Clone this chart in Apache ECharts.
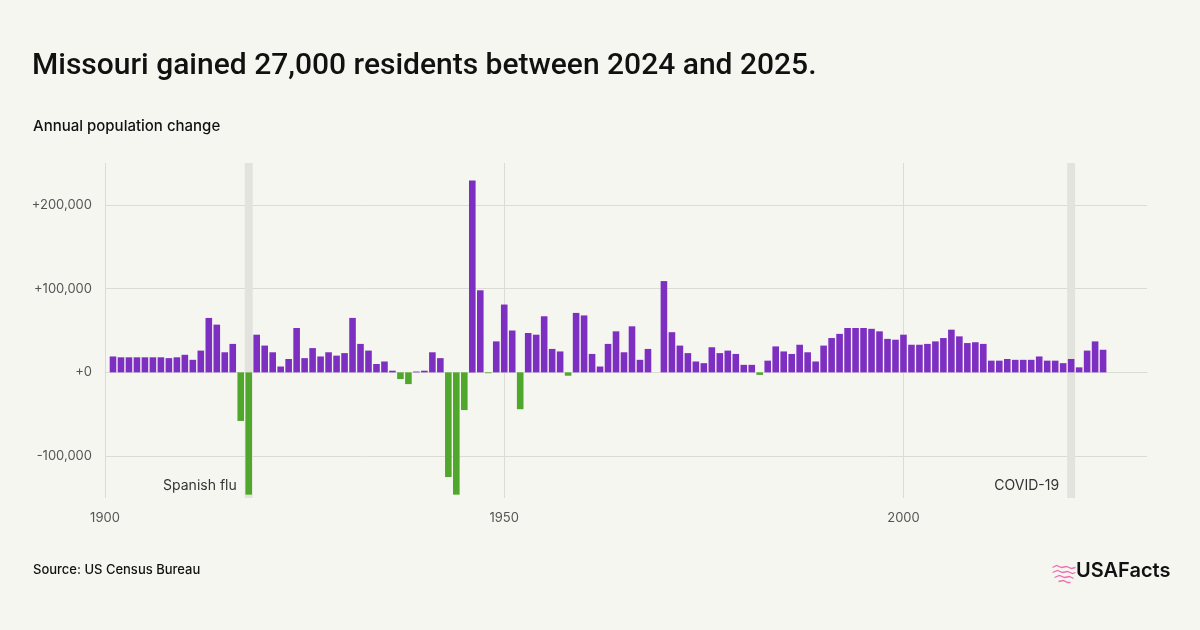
<!DOCTYPE html>
<html>
<head>
<meta charset="utf-8">
<script src="https://cdn.jsdelivr.net/npm/echarts@6/dist/echarts.min.js"></script>
<style>
  html, body { margin: 0; padding: 0; background: #f6f6f1; }
  #chart { width: 1200px; height: 630px; }
</style>
</head>
<body>
<div id="chart"></div>
<script>
// ---- Data ----
const years = Array.from({ length: 125 }, (_, i) => 1901 + i); // 1901..2025
const popChange = [
  19000, 18000, 18000, 18000, 18000, 18000, 18000, 17000, 18000, 21000,   // 1901-1910
  15000, 26000, 65000, 57000, 24000, 34000, -58000, -146000, 45000, 32000, // 1911-1920
  24000, 7000, 16000, 53000, 17000, 29000, 19000, 24000, 20000, 23000,    // 1921-1930
  65000, 34000, 26000, 10000, 13000, 2000, -8000, -14000, 1000, 2000,     // 1931-1940
  24000, 17000, -125000, -146000, -45000, 229000, 98000, -1000, 37000, 81000, // 1941-1950
  50000, -44000, 47000, 45000, 67000, 28000, 25000, -4000, 71000, 68000,  // 1951-1960
  22000, 7000, 34000, 49000, 24000, 55000, 15000, 28000, null, 109000,    // 1961-1970
  48000, 32000, 23000, 13000, 11000, 30000, 23000, 26000, 22000, 9000,    // 1971-1980
  9000, -3000, 14000, 31000, 25000, 22000, 33000, 24000, 13000, 32000,    // 1981-1990
  41000, 46000, 53000, 53000, 53000, 52000, 49000, 40000, 39000, 45000,   // 1991-2000
  33000, 33000, 34000, 37000, 41000, 51000, 43000, 35000, 36000, 34000,   // 2001-2010
  14000, 14000, 16000, 15000, 15000, 15000, 19000, 14000, 14000, 11000,   // 2011-2020
  16000, 6000, 26000, 37000, 27000                                          // 2021-2025
];
const events = [
  { name: 'Spanish flu', year: 1918 },
  { name: 'COVID-19', year: 2021 }
];
const yTicks = [-100000, 0, 100000, 200000];
const xTicks = [1900, 1950, 2000];

const titleText = 'Missouri gained 27,000 residents between 2024 and 2025.';
const subtitleText = 'Annual population change';
const sourceText = 'Source: US Census Bureau';

// ---- Chart ----
const PURPLE = '#7d2fc1';
const GREEN = '#4fa82b';
const GRID = '#dcdcd7';
const FONT = 'Inter, Roboto, "Noto Sans", sans-serif';
const TFONT = 'Roboto, Inter, sans-serif';

const chart = echarts.init(document.getElementById('chart'), null, { renderer: 'canvas' });

const fmt = v => {
  const s = Math.abs(v).toLocaleString('en-US');
  return (v < 0 ? '-' : '+') + s;
};

const option = {
  backgroundColor: '#f6f6f1',
  animation: false,
  grid: { left: 105, right: 53, top: 163, bottom: 132, containLabel: false },
  xAxis: {
    type: 'value',
    min: 1900,
    max: 2030.5,
    interval: 50,
    axisLine: { show: true, lineStyle: { color: GRID, width: 1 } },
    axisTick: { show: false },
    axisLabel: {
      margin: 14,
      color: '#555',
      fontSize: 13,
      fontFamily: FONT,
      formatter: v => (xTicks.includes(v) ? String(v) : '')
    },
    splitLine: { show: true, showMaxLine: false, lineStyle: { color: GRID, width: 1 } }
  },
  yAxis: {
    type: 'value',
    min: -150000,
    max: 250000,
    interval: 50000,
    axisLine: { show: false },
    axisTick: { show: false },
    axisLabel: {
      margin: 13,
      color: '#555',
      fontSize: 13,
      fontFamily: FONT,
      formatter: v => (yTicks.includes(v) ? fmt(v) : '')
    },
    splitLine: { show: true, lineStyle: { color: ['rgba(0,0,0,0)', GRID], width: 1 } }
  },
  series: [
    {
      type: 'line',
      data: [],
      z: 1,
      silent: true,
      markArea: {
        silent: true,
        itemStyle: { color: '#e3e3de' },
        label: {
          show: true,
          position: [-8, '96.5%'],
          align: 'right',
          verticalAlign: 'middle',
          color: '#333',
          fontSize: 14,
          fontFamily: FONT
        },
        data: events.map(e => [
          { name: e.name, xAxis: e.year - 0.5 },
          { xAxis: e.year + 0.5 }
        ])
      }
    },
    {
      type: 'bar',
      z: 3,
      barWidth: 6.6,
      data: years.map((y, i) => ({
        value: [y, popChange[i]],
        itemStyle: { color: popChange[i] < 0 ? GREEN : PURPLE }
      }))
    }
  ],
  graphic: [
    {
      type: 'text', left: 32, top: 51,
      style: { text: titleText, font: '500 30px ' + TFONT, fill: '#111' }
    },
    {
      type: 'text', left: 33, top: 119,
      style: { text: subtitleText, font: '500 15px ' + FONT, fill: '#111' }
    },
    {
      type: 'text', left: 33, top: 564,
      style: { text: sourceText, font: '500 13px ' + FONT, fill: '#111' }
    },
    {
      type: 'text', left: 1076, top: 561,
      style: { text: 'USAFacts', font: '600 20px ' + FONT, fill: '#111' }
    },
    {
      type: 'group', left: 1050, top: 563,
      children: [
        { type: 'polyline', shape: { points: [[0,2],[4,0],[9,2],[14,1],[19,3],[23,2]] }, style: { stroke: '#ef6fb2', lineWidth: 1.3, fill: null } },
        { type: 'polyline', shape: { points: [[0,7],[5,5],[10,7],[15,6],[20,8],[23,7]] }, style: { stroke: '#ef6fb2', lineWidth: 1.3, fill: null } },
        { type: 'polyline', shape: { points: [[2,12],[7,10],[12,12],[17,11],[21,13]] }, style: { stroke: '#ef6fb2', lineWidth: 1.3, fill: null } },
        { type: 'polyline', shape: { points: [[6,16],[11,15],[15,17],[18,17]] }, style: { stroke: '#ef6fb2', lineWidth: 1.3, fill: null } }
      ]
    }
  ]
};

chart.setOption(option);
</script>
</body>
</html>
